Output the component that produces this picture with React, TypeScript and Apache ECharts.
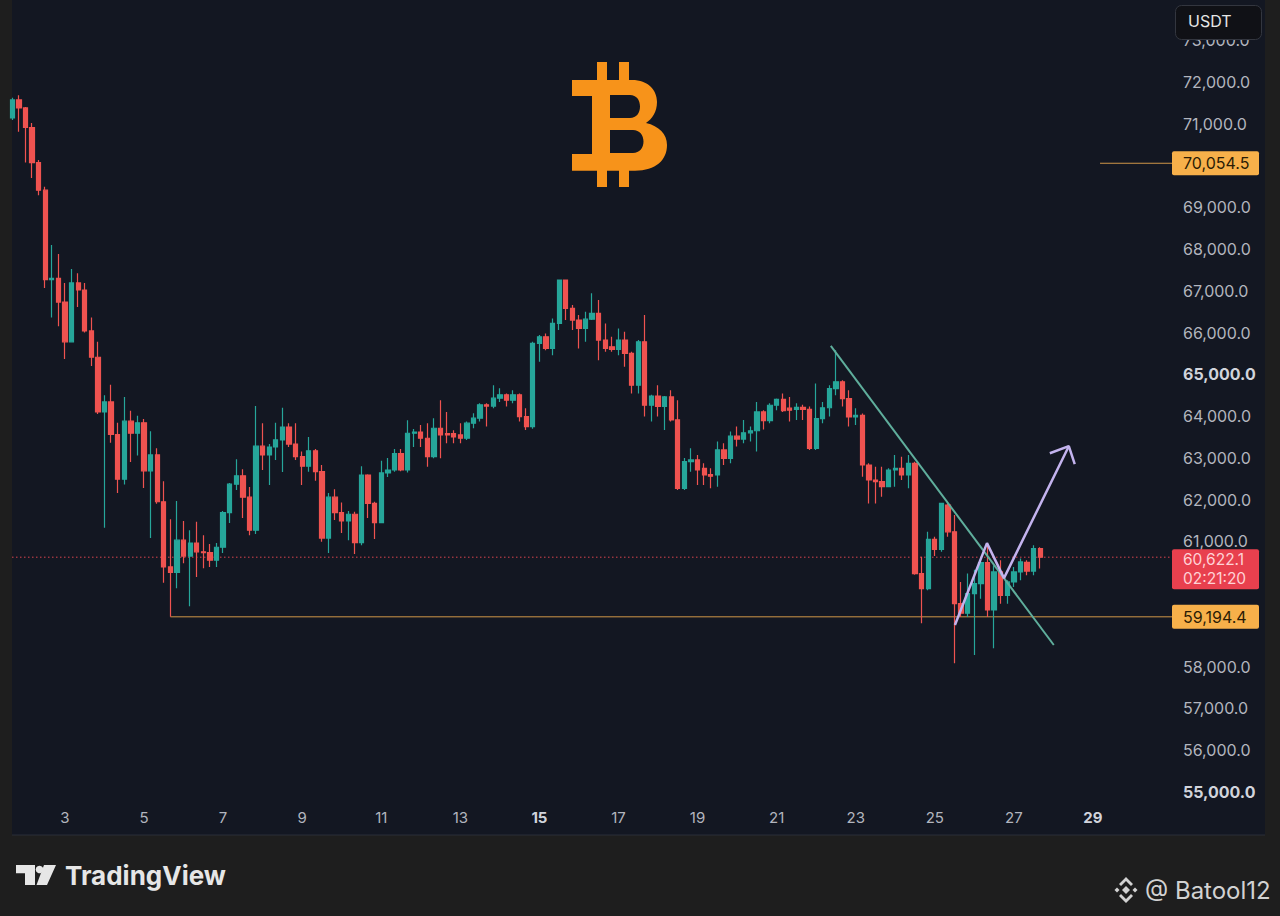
import React, { useEffect, useRef } from "react";
import * as echarts from "echarts";

// ---- data (4h candles) ----
const OPEN = [
  71140, 71570, 71380, 70910, 70070, 69410, 67270, 67300, 66730, 65780,
  67190, 67020, 66040, 65410, 64100, 64340, 63560, 62490, 63880, 63590,
  63840, 62690, 63070, 61950, 60390, 60260, 61030, 60650, 60960, 60750,
  60730, 60550, 60860, 61690, 62370, 62570, 62060, 61270, 63280, 63070,
  63260, 63430, 63740, 63330, 63030, 62800, 63170, 62670, 61080, 62060,
  61690, 61490, 61650, 60970, 62590, 61910, 61450, 62640, 62710, 63100,
  62710, 63590, 63620, 63470, 63030, 63710, 63580, 63580, 63550, 63470,
  63830, 63950, 64270, 64240, 64430, 64510, 64380, 64510, 63990, 63750,
  65740, 65900, 65620, 66220, 67258, 66580, 66300, 66100, 66320, 66460,
  65820, 65660, 65600, 65820, 65500, 64740, 65780, 64260, 64480, 64230,
  64460, 63910, 62270, 62910, 62950, 62750, 62600, 62590, 63190, 62990,
  63520, 63450, 63600, 63650, 64100, 63890, 64260, 64400, 64190, 64160,
  64210, 64160, 63230, 63940, 64200, 64660, 64820, 64420, 63980, 64020,
  62830, 62470, 62430, 62310, 62710, 62750, 62590, 62870, 60230, 59870,
  61050, 60810, 61870, 61230, 59510, 59280, 59750, 59990, 60490, 59360,
  60270, 59710, 60030, 60270, 60500, 60290, 60830,
];
const CLOSE = [
  71570, 71380, 70910, 70070, 69410, 67270, 67300, 66730, 65780, 67190,
  67020, 66040, 65410, 64100, 64340, 63560, 62490, 63880, 63590, 63840,
  62690, 63070, 61950, 60390, 60260, 61030, 60650, 60960, 60750, 60730,
  60550, 60860, 61690, 62370, 62570, 62060, 61270, 63280, 63070, 63260,
  63430, 63740, 63330, 63030, 62800, 63170, 62670, 61080, 62060, 61690,
  61490, 61650, 60970, 62590, 61910, 61450, 62640, 62710, 63100, 62710,
  63590, 63620, 63470, 63030, 63710, 63550, 63550, 63500, 63470, 63830,
  63950, 64270, 64240, 64430, 64510, 64380, 64510, 63990, 63750, 65740,
  65900, 65620, 66220, 67258, 66580, 66300, 66100, 66320, 66460, 65820,
  65620, 65600, 65820, 65500, 64740, 65780, 64260, 64480, 64230, 64460,
  63910, 62270, 62910, 62950, 62710, 62590, 62560, 63190, 62990, 63520,
  63450, 63600, 63650, 64100, 63890, 64260, 64400, 64130, 64140, 64210,
  64160, 63230, 63940, 64200, 64660, 64820, 64420, 63980, 64020, 62830,
  62470, 62430, 62310, 62710, 62750, 62590, 62870, 60230, 59870, 61050,
  60810, 61910, 61230, 59510, 59280, 59750, 59990, 60490, 59360, 60270,
  59710, 60030, 60270, 60510, 60290, 60830, 60622.1,
];
const LOW = [
  71090, 70810, 70070, 69700, 69290, 67070, 66360, 66150, 65370, 65760,
  66610, 66000, 65200, 64050, 61330, 63360, 62160, 62360, 62900, 63060,
  62280, 61080, 61900, 60010, 59194.4, 59880, 60480, 59450, 60150, 60360,
  60390, 60390, 60720, 61440, 62230, 61560, 61150, 61180, 62710, 62350,
  62950, 62660, 63260, 62950, 62350, 62670, 62450, 60990, 60720, 61510,
  61200, 61030, 60700, 60910, 61560, 61060, 61440, 62540, 62670, 62680,
  62650, 63260, 63260, 62790, 62990, 62990, 63350, 63350, 63350, 63430,
  63710, 63870, 63750, 64190, 64340, 64230, 64310, 63870, 63670, 63700,
  65300, 65580, 65460, 66060, 66300, 66060, 65620, 65780, 66300, 65340,
  65540, 65540, 65460, 65180, 64540, 64540, 63990, 63870, 63990, 63670,
  63870, 62230, 62230, 62670, 62350, 62350, 62270, 62310, 62830, 62870,
  63270, 63350, 63390, 63150, 63680, 63830, 64140, 64100, 63870, 63910,
  63910, 63190, 63190, 63830, 63990, 64500, 64230, 63750, 63790, 62550,
  61910, 61910, 62070, 62310, 62310, 62470, 62270, 60200, 59040, 59830,
  60650, 60750, 61110, 58080, 59190, 59190, 58280, 59630, 59190, 58440,
  59510, 59510, 59910, 60070, 60190, 60190, 60350,
];
const HIGH = [
  71620, 71680, 71400, 71020, 70130, 69490, 68100, 67880, 67190, 67520,
  67420, 67190, 66360, 65780, 64500, 64750, 63840, 64460, 64130, 64010,
  63930, 63640, 63230, 62440, 61530, 61970, 61490, 61270, 61470, 61150,
  60940, 60960, 61730, 62400, 62970, 62730, 62300, 64240, 63830, 63330,
  63840, 64200, 63830, 63830, 63150, 63500, 63210, 62830, 62160, 62250,
  61930, 61730, 61710, 62800, 62610, 61950, 62930, 63000, 63210, 63210,
  63900, 63690, 63790, 63830, 63950, 64380, 64100, 63660, 63830, 63870,
  64070, 64310, 64310, 64740, 64670, 64540, 64620, 64540, 64190, 65780,
  65940, 65980, 66340, 67260, 67260, 66660, 66420, 66500, 66940, 66780,
  66220, 65900, 66100, 66020, 65540, 65820, 66420, 64510, 64740, 64480,
  64620, 64380, 63000, 63230, 63070, 62870, 62750, 63390, 63350, 63630,
  63750, 63910, 63750, 64340, 64140, 64310, 64420, 64540, 64460, 64310,
  64270, 64230, 64780, 64340, 64740, 65580, 64860, 64620, 64190, 64060,
  62870, 62790, 62790, 62750, 63070, 63030, 63070, 62910, 60630, 61230,
  61110, 61910, 61910, 61630, 60030, 60230, 60320, 60550, 60950, 60430,
  60550, 60070, 60390, 60590, 60550, 60910, 60860,
];

// first candle opens on day 1 at 16:00, one candle every 4 hours
const FIRST_CANDLE_DAY = 1 + 16 / 24;
const CANDLE_STEP_DAYS = 4 / 24;

const X_MIN_DAY = 1.66;
const X_MAX_DAY = 31.0;
const X_LABEL_DAYS = [3, 5, 7, 9, 11, 13, 15, 17, 19, 21, 23, 25, 27, 29];
const BOLD_DAYS = [15, 29];

const Y_MIN = 54736.6;
const Y_MAX = 73963.4;
// 59,000 and 60,000 sit under the price labels in the reference
const Y_TICKS = [
  55000, 56000, 57000, 58000, 61000, 62000, 63000, 64000,
  65000, 66000, 67000, 68000, 69000, 70000, 71000, 72000, 73000,
];
const BOLD_PRICES = [65000, 55000];

const LAST_PRICE = 60622.1;
const COUNTDOWN = "02:21:20";
const SUPPORT_PRICE = 59194.4;
const SUPPORT_FROM_CANDLE = 24;
const RESIST_PRICE = 70054.5;
const RESIST_FROM_DAY = 29.18;

// drawings: [day, price]
const TREND_LINE = [
  [22.37, 65680],
  [28.01, 58520],
];
const ARROW_PATH = [
  [25.51, 59000],
  [26.32, 60960],
  [26.75, 60120],
  [28.39, 63280],
];
const ARROW_HEAD = [
  [27.91, 63110],
  [28.39, 63280],
  [28.54, 62850],
];

const UP = "#26a69a";
const DOWN = "#ef5350";
const FONT = "Inter, 'Noto Sans', sans-serif";

const BTC_PATH =
  "M0,20 L60,20 C76,20 85,30 85,42 C85,52 80,59 74,63 C87,66 95,74 95,85 C95,100 84,110.7 63,110.7 L0,110.7 L0,94 L20,94 L20,36 L0,36 Z " +
  "M38,35 L38,58 L58,58 C64.5,58 68,53 68,46.5 C68,40 64.5,35 58,35 Z " +
  "M38,70 L38,93 L61,93 C67.5,93 71.5,88 71.5,81.5 C71.5,75 67.5,70 61,70 Z " +
  "M25,2 L35,2 L35,22 L25,22 Z M47,2 L57,2 L57,22 L47,22 Z " +
  "M25,108 L35,108 L35,127 L25,127 Z M47,108 L57,108 L57,127 L47,127 Z";
const TV_PATH =
  "M0,0 L19,0 L19,20 L9,20 L9,8.3 L0,8.3 Z M28,0 L40,0 L31,20 L20.5,20 Z";

let shapesRegistered = false;
function registerShapes() {
  if (shapesRegistered) return;
  shapesRegistered = true;
  echarts.graphic.registerShape("btclogo", echarts.graphic.extendPath(BTC_PATH, {}));
  echarts.graphic.registerShape("tvmark", echarts.graphic.extendPath(TV_PATH, {}));
}

const fmtPrice = (v: number) =>
  v.toLocaleString("en-US", { minimumFractionDigits: 1, maximumFractionDigits: 1 });

export default function App() {
  const ref = useRef<HTMLDivElement>(null);

  useEffect(() => {
    if (!ref.current) return;
    registerShapes();
    const chart = echarts.init(ref.current, null, { renderer: "svg" });

    const candles = OPEN.map((o, i) => [
      FIRST_CANDLE_DAY + i * CANDLE_STEP_DAYS,
      o,
      CLOSE[i],
      LOW[i],
      HIGH[i],
    ]);
    const supportFrom = FIRST_CANDLE_DAY + SUPPORT_FROM_CANDLE * CANDLE_STEP_DAYS;

    const lineSeries = (data: number[][], color: string, width: number, type: any = "solid", z = 4) => ({
      type: "line",
      data,
      symbol: "none",
      silent: true,
      z,
      lineStyle: { color, width, type },
    });

    chart.setOption({
      animation: false,
      backgroundColor: "#1e1e1e",
      grid: { left: 12, right: 108, top: 0, bottom: 113, outerBoundsMode: "none" },
      xAxis: {
        type: "value",
        min: X_MIN_DAY,
        max: X_MAX_DAY,
        axisLine: { show: false },
        axisTick: { show: false },
        splitLine: { show: false },
        axisLabel: {
          customValues: X_LABEL_DAYS,
          margin: 7,
          color: "#b2b5be",
          fontSize: 15,
          fontFamily: FONT,
          formatter: (v: number) => (BOLD_DAYS.includes(v) ? `{b|${v}}` : `${v}`),
          rich: { b: { fontWeight: "bold", color: "#d1d4dc", fontSize: 15, fontFamily: FONT } },
        },
      },
      yAxis: {
        type: "value",
        position: "right",
        min: Y_MIN,
        max: Y_MAX,
        scale: true,
        axisLine: { show: false },
        axisTick: { show: false },
        splitLine: { show: false },
        axisLabel: {
          customValues: Y_TICKS,
          margin: 11,
          color: "#b2b5be",
          fontSize: 16,
          fontFamily: FONT,
          formatter: (v: number) =>
            BOLD_PRICES.includes(v) ? `{b|${fmtPrice(v)}}` : fmtPrice(v),
          rich: { b: { fontWeight: "bold", color: "#d1d4dc", fontSize: 16, fontFamily: FONT } },
        },
      },
      series: [
        {
          type: "candlestick",
          data: candles,
          dimensions: ["t", "open", "close", "lowest", "highest"],
          encode: { x: 0, y: [1, 2, 3, 4] },
          barWidth: 4.8,
          silent: true,
          z: 3,
          itemStyle: {
            color: UP,
            color0: DOWN,
            borderColor: UP,
            borderColor0: DOWN,
            borderWidth: 1.2,
          },
        },
        lineSeries([[X_MIN_DAY, LAST_PRICE], [X_MAX_DAY, LAST_PRICE]], "#d9444f", 1, [1.5, 2.5], 2),
        lineSeries([[supportFrom, SUPPORT_PRICE], [X_MAX_DAY, SUPPORT_PRICE]], "#cf9648", 1, "solid", 2),
        lineSeries([[RESIST_FROM_DAY, RESIST_PRICE], [X_MAX_DAY, RESIST_PRICE]], "#cf9648", 1, "solid", 2),
        lineSeries(TREND_LINE, "#5fae9c", 2),
        lineSeries(ARROW_PATH, "#c3b3ee", 2.5, "solid", 5),
        lineSeries(ARROW_HEAD, "#c3b3ee", 2.5, "solid", 5),
      ],
    });

    const xr = chart.convertToPixel({ xAxisIndex: 0 }, X_MAX_DAY) as number;
    const yOf = (p: number) => chart.convertToPixel({ yAxisIndex: 0 }, p) as number;
    const yLast = yOf(LAST_PRICE);
    const ySup = yOf(SUPPORT_PRICE);
    const yRes = yOf(RESIST_PRICE);

    const orangeBox = (y: number, text: string) => [
      { type: "rect", z: 100, shape: { x: xr, y: y - 12, width: 87, height: 24, r: 2 }, style: { fill: "#f7b04a" } },
      {
        type: "text", z: 101,
        style: { text, x: xr + 11, y, fill: "#2b1c05", fontSize: 16, fontFamily: FONT, verticalAlign: "middle", align: "left" },
      },
    ];

    chart.setOption({
      graphic: [
        { type: "rect", z: -10, silent: true, shape: { x: 12, y: 0, width: 1253, height: 835 }, style: { fill: "#131722" } },
        { type: "line", z: -9, silent: true, shape: { x1: 12, y1: 835, x2: 1265, y2: 835 }, style: { stroke: "#2a2e39", lineWidth: 1 } },
        // bitcoin logo
        { type: "btclogo", z: 10, x: 572, y: 60, scaleX: 1, scaleY: 1, style: { fill: "#f7931a" } },
        // USDT box
        { type: "rect", z: 100, shape: { x: 1175.5, y: 5.5, width: 86, height: 34, r: 6 }, style: { fill: "#101116", stroke: "#33363f", lineWidth: 1 } },
        { type: "text", z: 101, style: { text: "USDT", x: 1188, y: 21, fill: "#e6e6e6", fontSize: 16, fontFamily: FONT, verticalAlign: "middle" } },
        // price labels
        ...orangeBox(yRes, fmtPrice(RESIST_PRICE)),
        ...orangeBox(ySup, fmtPrice(SUPPORT_PRICE)),
        { type: "rect", z: 100, shape: { x: xr, y: yLast - 8, width: 87, height: 40, r: 2 }, style: { fill: "#e8404e" } },
        { type: "text", z: 101, style: { text: fmtPrice(LAST_PRICE), x: xr + 11, y: yLast + 2.5, fill: "#ffd2d6", fontSize: 15.5, fontFamily: FONT, verticalAlign: "middle" } },
        { type: "text", z: 101, style: { text: COUNTDOWN, x: xr + 11, y: yLast + 21, fill: "#ffd2d6", fontSize: 15.5, fontFamily: FONT, verticalAlign: "middle" } },
        // TradingView footer
        { type: "tvmark", z: 10, x: 16, y: 865, style: { fill: "#e6e6e6" } },
        { type: "circle", z: 10, shape: { cx: 39.5, cy: 869.5, r: 3.8 }, style: { fill: "#e6e6e6" } },
        { type: "text", z: 10, style: { text: "TradingView", x: 65, y: 875, fill: "#e6e6e6", fontSize: 26, fontWeight: "bold", fontFamily: FONT, verticalAlign: "middle" } },
        // Binance-style mark and handle
        { type: "polygon", z: 10, shape: { points: [[1126, 886], [1130, 890], [1126, 894], [1122, 890]] }, style: { fill: "#d2d2d2" } },
        { type: "polygon", z: 10, shape: { points: [[1117, 887.5], [1119.5, 890], [1117, 892.5], [1114.5, 890]] }, style: { fill: "#d2d2d2" } },
        { type: "polygon", z: 10, shape: { points: [[1135, 887.5], [1137.5, 890], [1135, 892.5], [1132.5, 890]] }, style: { fill: "#d2d2d2" } },
        { type: "polygon", z: 10, shape: { points: [[1126, 877], [1133, 884], [1131, 886], [1126, 881], [1121, 886], [1119, 884]] }, style: { fill: "#d2d2d2" } },
        { type: "polygon", z: 10, shape: { points: [[1126, 903], [1133, 896], [1131, 894], [1126, 899], [1121, 894], [1119, 896]] }, style: { fill: "#d2d2d2" } },
        { type: "text", z: 10, style: { text: "@ Batool12", x: 1145, y: 890, fill: "#d2d2d2", fontSize: 24, fontFamily: FONT, verticalAlign: "middle" } },
      ],
    });

    return () => chart.dispose();
  }, []);

  return (
    <div
      ref={ref}
      style={{ position: "fixed", left: 0, top: 0, width: 1280, height: 916 }}
    />
  );
}
